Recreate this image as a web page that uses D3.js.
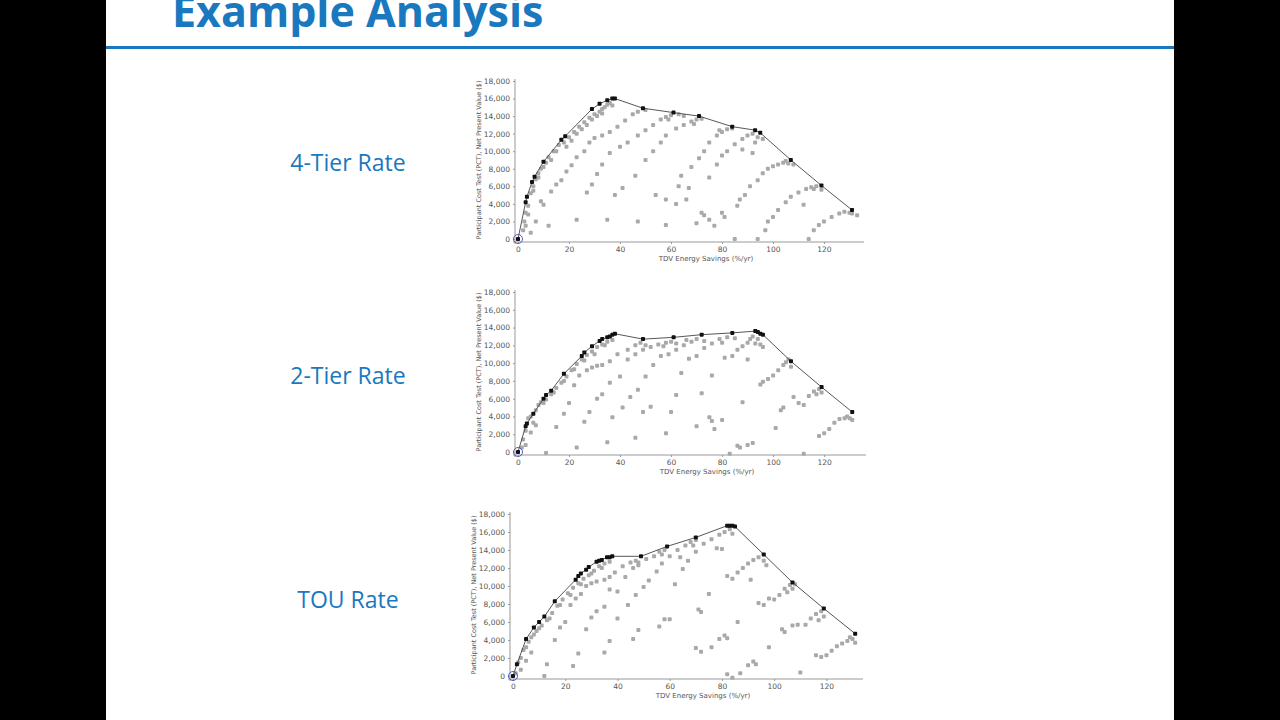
<!DOCTYPE html>
<html lang="en">
<head>
<meta charset="UTF-8">
<title>Example Analysis</title>
<script src="https://d3js.org/d3.v7.min.js"></script>
<style>
  body { margin: 0; background: #000; }
  svg { display: block; }
</style>
</head>
<body>
<div id="chart"></div>
<script>
// Tick values
const xTicks = [0, 20, 40, 60, 80, 100, 120];
const yTicks = [0, 2000, 4000, 6000, 8000, 10000, 12000, 14000, 16000, 18000];

const rateLabels = ["4-Tier Rate", "2-Tier Rate", "TOU Rate"];

// Frontier (black) points per rate
const frontier4 = [[0,0],[3,4200],[3.5,4800],[5.5,6500],[6.5,7100],[10,8800],[17,11300],[18.5,11700],[29,14800],[32,15400],[35,15800],[37,16000],[38,16000],[49,14900],[61,14400],[71,14000],[84,12800],[93,12400],[95,12100],[107,9000],[119,6100],[131,3300]];
const frontier2 = [[0,0],[3,2900],[3.5,3200],[6,4300],[10,6000],[11,6400],[13,6900],[18,8800],[25,10800],[26,11200],[29,11900],[32,12500],[33,12700],[35,12900],[36,13000],[37,13200],[38,13300],[49,12700],[61,12900],[72,13200],[84,13400],[93,13600],[94,13500],[95,13300],[96,13200],[107,10200],[119,7300],[131,4500]];
const frontierTou = [[0,0],[1.5,1300],[5,4100],[8,5400],[10,6000],[12,6600],[16,8300],[24,10700],[25,11100],[26,11400],[28,11800],[29,12100],[32,12700],[33,12800],[34,12900],[36,13200],[37,13200],[38,13300],[49,13300],[59,14400],[70,15400],[82,16700],[83,16700],[84,16700],[85,16600],[96,13500],[107,10400],[119,7500],[131,4700]];

// Other (grey) design points per rate
const other4 = [[2,1000],[2.5,2000],[3,3000],[4,3800],[5,5200],[6,6000],[7,6800],[8,7500],[9,8000],[11,8700],[12,9300],[14,10000],[16,10700],[18,11000],[20,11600],[22,12200],[24,12800],[26,13300],[28,13800],[30,14200],[31,14000],[33,14800],[34,15000],[35,15300],[36,15500],[37,15200],[33,14300],[27,13000],[23,12000],[19,10500],[15,10000],[13,9000],[10,8200],[8,7000],[6,5500],[4,2800],[3,1500],[5,700],[21,11200],[25,12500],[29,13600],[32,14500],
  [12,1500],[10,3900],[13,5400],[15,6200],[17,6700],[19,7700],[21,8400],[23,9300],[26,10000],[28,11000],[30,11500],[33,11800],[36,12200],[39,12800],[42,13500],[45,14200],[47,14500],[50,14700],[7,2000],[9,4300],
  [23,2200],[27,5300],[29,6200],[31,7400],[33,8500],[36,9800],[40,10500],[43,11000],[47,11800],[50,12400],[53,13000],[56,13600],[58,13900],[60,14100],[63,14200],[65,14000],[59,13600],
  [35,2200],[38,5000],[41,5800],[46,7200],[50,9000],[53,10000],[56,11000],[58,11800],[62,12600],[65,13000],[68,13400],[70,13600],[72,13700],[69,13100],
  [47,2000],[54,5000],[58,4500],[63,6000],[64,7200],[68,8200],[71,9200],[73,10000],[75,11000],[78,11800],[80,12200],[82,12500],[84,12600],[79,12400],
  [58,1600],[62,4000],[66,4500],[67,5800],[70,1800],[72,3000],[73,2700],[75,2200],[77,1500],[75,7000],[78,8500],[80,9500],[82,10000],[85,10800],[88,11400],[90,11800],[92,12000],[94,11600],[96,11400],[88,10200],[92,9800],[93,11000],[80,3000],[81,2500],
  [85,0],[86,3800],[87,4500],[89,5000],[91,6000],[94,6700],[96,7500],[98,8000],[100,8300],[102,8500],[104,8700],[106,8600],[108,8500],[105,8900],
  [94,0],[97,1000],[98,2000],[100,2500],[102,3300],[105,4200],[107,4800],[110,5300],[113,5700],[115,5900],[117,6000],[119,5600],[112,3900],[116,5700],
  [114,0],[116,1000],[118,1600],[120,2000],[123,2500],[126,2900],[128,3100],[130,3000],[133,2700],[131,2900]];

const other2 = [[1.5,500],[2,1400],[3,2400],[4,3800],[5,4000],[6,3300],[7,4700],[8,5300],[9,5600],[11,5900],[13,6500],[15,7200],[17,7800],[19,8500],[21,9200],[23,9900],[25,10400],[27,10900],[29,11300],[31,11800],[33,12100],[35,12400],[37,12600],[34,12000],[30,11000],[26,10300],[22,9300],[18,8000],[14,6700],[10,5500],[7,3000],[5,2200],[3,800],
  [11,-100],[15,2800],[18,4300],[20,5500],[22,7500],[24,8600],[27,9200],[29,9500],[31,9700],[33,9800],[36,10200],[39,11000],[43,11500],[46,12000],[48,12300],[50,12000],
  [23,500],[26,3400],[28,4500],[31,6000],[33,6500],[36,7800],[40,8500],[43,10400],[46,11000],[49,11500],[52,11800],[55,12100],[58,12300],[60,12400],[62,12200],[57,11900],
  [35,1100],[37,3900],[41,5000],[44,6200],[47,7000],[50,8500],[53,9800],[56,10800],[59,11000],[62,11500],[65,12000],[68,12400],[70,12700],[73,12500],[66,12600],
  [46,1600],[49,4500],[52,5100],[58,2100],[60,4500],[62,6400],[64,8900],[67,10500],[70,10800],[73,11700],[76,12200],[79,12700],[82,12900],[85,12800],[80,12300],
  [70,2900],[72,6600],[75,3900],[76,3500],[77,2600],[76,8600],[80,3600],[81,10600],[84,10800],[86,11500],[88,11900],[90,12300],[91,12700],[92,13000],[93,12200],[94,12700],[95,12100],[96,11800],[90,10400],
  [83,-200],[88,5600],[86,700],[87,500],[90,800],[92,1000],[95,7600],[96,7900],[98,8200],[100,8600],[102,9200],[104,9800],[106,10400],[107,9600],[105,10100],
  [101,2700],[103,4700],[104,5000],[108,6200],[110,5500],[112,5300],[114,6300],[116,6800],[118,7100],[119,6700],[117,6500],
  [112,-200],[118,1800],[120,2100],[122,2600],[124,3300],[126,3700],[128,3800],[130,3800],[131,3600],[129,4000]];

const otherTou = [[1,300],[2,1500],[3,2000],[4,2900],[5,3200],[6,3800],[7,4300],[8,4600],[9,5000],[11,5600],[13,6200],[15,7000],[17,7800],[19,8500],[21,9200],[23,9800],[25,10300],[27,10800],[29,11200],[31,11700],[33,12200],[35,12500],[37,12700],[34,12000],[30,11400],[26,10200],[22,9000],[18,7900],[14,6400],[10,5300],[7,2600],[5,1700],[3,700],
  [12,0],[13,1300],[16,4000],[18,5400],[20,6000],[22,7900],[24,8600],[26,9100],[28,10000],[30,10300],[32,10500],[35,10700],[37,11000],[39,11500],[42,12200],[45,12600],[47,12800],[48,12300],
  [23,1100],[25,2500],[28,5200],[30,6500],[32,7200],[35,7700],[37,9600],[40,9400],[43,11000],[46,12000],[48,12600],[51,13000],[54,13300],[56,13800],[58,14000],[57,13500],
  [35,2600],[37,3900],[40,6400],[44,7900],[47,9000],[50,9900],[52,10600],[55,11600],[57,12500],[60,13300],[63,14000],[66,14500],[68,14900],[70,15100],[69,14500],[64,13200],
  [46,4100],[48,5100],[56,5500],[58,6300],[60,6300],[62,10200],[65,11900],[67,12800],[70,13800],[73,14700],[76,15200],[79,15700],[81,16000],[83,16300],[84,15800],[78,14200],[80,14100],
  [70,3100],[72,2700],[71,7400],[72,7100],[75,9100],[76,3200],[79,4100],[81,4500],[82,4200],[82,11100],[84,10800],[86,11500],[88,12000],[90,12500],[92,12900],[94,13200],[96,12800],[97,12300],[91,10700],
  [82,200],[84,-200],[87,300],[86,6000],[90,1200],[92,1600],[93,1300],[94,8100],[96,7900],[98,8600],[100,8500],[102,9000],[104,9700],[106,10100],[107,9700],[108,10200],[105,9300],
  [98,3200],[103,5200],[104,4900],[107,5600],[109,5700],[112,5700],[114,6400],[116,6900],[118,7200],[119,6600],[117,6200],
  [110,400],[116,2300],[118,2100],[120,2300],[122,2800],[124,3300],[126,3600],[128,3900],[130,4100],[131,3700],[129,4300]];

const panels = [
  { label: rateLabels[0], frontier: frontier4, other: other4, x0: 518, x1: 864, y0: 239, y1: 81, xMax: 135.7, labelY: 163 },
  { label: rateLabels[1], frontier: frontier2, other: other2, x0: 518, x1: 866, y0: 452, y1: 292, xMax: 136.4, labelY: 376 },
  { label: rateLabels[2], frontier: frontierTou, other: otherTou, x0: 513, x1: 863, y0: 676, y1: 514, xMax: 134, labelY: 600 }
];

const svg = d3.select("#chart").append("svg")
  .attr("width", 1280).attr("height", 720);

// slide background between black bars
svg.append("rect").attr("x", 106).attr("y", 0).attr("width", 1068).attr("height", 720).attr("fill", "#fff");

// the slide title is cut off at the top edge, as in the original
svg.append("text")
  .attr("x", 172).attr("y", 27)
  .attr("font-family", "'Open Sans', sans-serif")
  .attr("font-weight", "bold")
  .attr("font-size", 43)
  .attr("fill", "#1a78bf")
  .text("Example Analysis");

svg.append("rect").attr("x", 106).attr("y", 46).attr("width", 1068).attr("height", 3).attr("fill", "#1a78bf");

panels.forEach(p => {
  const x = d3.scaleLinear().domain([0, p.xMax]).range([p.x0, p.x1]);
  const y = d3.scaleLinear().domain([0, 18000]).range([p.y0, p.y1]);
  const g = svg.append("g");

  svg.append("text")
    .attr("x", 348).attr("y", p.labelY).attr("dy", "0.35em")
    .attr("text-anchor", "middle")
    .attr("font-family", "'Open Sans', sans-serif")
    .attr("font-size", 23)
    .attr("fill", "#1a78bf")
    .text(p.label);

  const xAxis = g.append("g")
    .attr("transform", `translate(0,${p.y0 + 3})`)
    .call(d3.axisBottom(x).tickValues(xTicks).tickSize(2).tickSizeOuter(0));
  const yAxis = g.append("g")
    .attr("transform", `translate(${p.x0 - 3},0)`)
    .call(d3.axisLeft(y).tickValues(yTicks).tickSize(2).tickSizeOuter(0).tickFormat(d3.format(",")));
  [xAxis, yAxis].forEach(a => {
    a.selectAll("path, line").attr("stroke", "#999");
    a.selectAll("text").attr("fill", "#555").attr("font-size", 7.5)
      .attr("font-family", "'DejaVu Sans', sans-serif");
  });
  xAxis.select(".domain").attr("d", `M${p.x0 - 5},0H${p.x1}`);
  yAxis.select(".domain").attr("d", `M0,${p.y0 + 5}V${p.y1 - 2}`);

  g.append("text")
    .attr("x", (p.x0 + p.x1) / 2 + 15).attr("y", p.y0 + 22)
    .attr("text-anchor", "middle")
    .attr("font-family", "'DejaVu Sans', sans-serif")
    .attr("font-size", 7).attr("fill", "#555")
    .text("TDV Energy Savings (%/yr)");

  g.append("text")
    .attr("transform", `translate(${p.x0 - 37},${(p.y0 + p.y1) / 2}) rotate(-90)`)
    .attr("text-anchor", "middle")
    .attr("font-family", "'DejaVu Sans', sans-serif")
    .attr("font-size", 6.5).attr("fill", "#555")
    .text("Participant Cost Test (PCT), Net Present Value ($)");

  g.selectAll("rect.other").data(p.other).join("rect")
    .attr("class", "other")
    .attr("x", d => x(d[0]) - 2).attr("y", d => y(d[1]) - 2)
    .attr("width", 4).attr("height", 4).attr("rx", 1)
    .attr("fill", "#a9a9a9");

  g.append("path")
    .datum(p.frontier)
    .attr("fill", "none").attr("stroke", "#444").attr("stroke-width", 0.9)
    .attr("d", d3.line().x(d => x(d[0])).y(d => y(d[1])));

  g.selectAll("rect.front").data(p.frontier).join("rect")
    .attr("class", "front")
    .attr("x", d => x(d[0]) - 2).attr("y", d => y(d[1]) - 2)
    .attr("width", 4).attr("height", 4).attr("rx", 0.8)
    .attr("fill", "#111");

  g.append("circle")
    .attr("cx", x(0)).attr("cy", y(0)).attr("r", 4.5)
    .attr("fill", "none").attr("stroke", "#5a5ab8").attr("stroke-width", 1);
});
</script>
</body>
</html>
